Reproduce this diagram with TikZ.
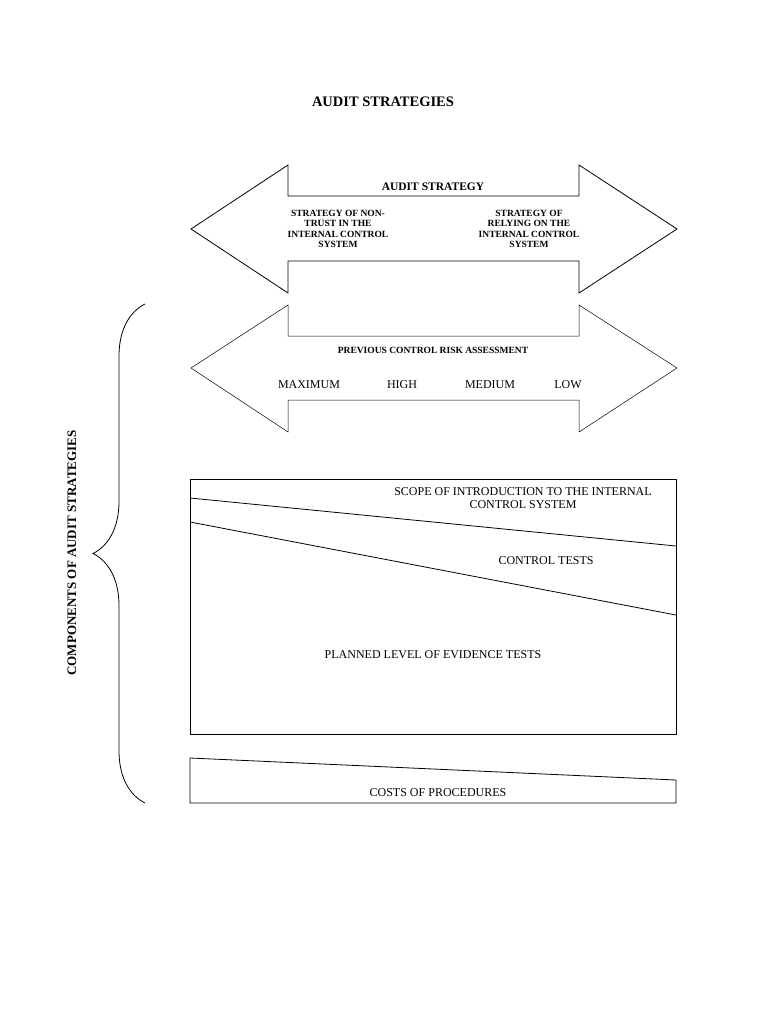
\documentclass[tikz,border=0pt]{standalone}
\usepackage{fontspec}
\setmainfont{Liberation Serif}
\usetikzlibrary{decorations.pathreplacing}

\tikzset{
  outline/.style={draw=black,line width=0.8pt},
  small/.style={font=\fontsize{9.5}{10.5}\selectfont\bfseries,align=center},
  label/.style={font=\fontsize{12}{13}\selectfont,align=center}
}

\begin{document}
\begin{tikzpicture}[x=1pt,y=-1pt]
\useasboundingbox (0,0) rectangle (768,1024);
\node[font=\fontsize{14.5}{16}\selectfont\bfseries] (title) at (383,102) {AUDIT STRATEGIES};
% upper arrow
\draw[outline] (191,229) -- (288,165) -- (288,196) -- (579,196) -- (579,165) -- (677,229)
  -- (579,293) -- (579,261) -- (288,261) -- (288,293) -- cycle;
\node[small,font=\fontsize{11.5}{12}\selectfont\bfseries] (strategy) at (433,187) {AUDIT STRATEGY};
\node[small] (nontrust) at (338,229) {STRATEGY OF NON-\\TRUST IN THE\\INTERNAL CONTROL\\SYSTEM};
\node[small] (relying) at (529,229) {STRATEGY OF\\RELYING ON THE\\INTERNAL CONTROL\\SYSTEM};
% lower arrow
\draw[outline,line width=0.5pt] (191,368) -- (288,305) -- (288,336) -- (579,336) -- (579,305) -- (677,368)
  -- (579,432) -- (579,400) -- (288,400) -- (288,432) -- cycle;
\node[small] (risk) at (433,350) {PREVIOUS CONTROL RISK ASSESSMENT};
\foreach \name/\x/\txt in {max/309/MAXIMUM,high/402/HIGH,med/490/MEDIUM,low/568/LOW}
  \node[label] (\name) at (\x,385) {\txt};
% evidence box
\draw[outline] (190,479) rectangle (676,734);
\draw[outline] (190,498) -- (676,546);
\draw[outline] (190,522) -- (676,615);
\node[label] (scope) at (523,498) {SCOPE OF INTRODUCTION TO THE INTERNAL\\CONTROL SYSTEM};
\node[label] (tests) at (546,561) {CONTROL TESTS};
\node[label] (planned) at (433,655) {PLANNED LEVEL OF EVIDENCE TESTS};
% costs box
\draw[outline] (190,758) -- (676,780) -- (676,803) -- (190,803) -- cycle;
\node[label] (costs) at (438,793) {COSTS OF PROCEDURES};
% brace
\draw[line width=0.8pt,decorate,decoration={brace,amplitude=52pt,aspect=0.5}] (145,803) -- (145,304);
\node[font=\fontsize{13}{14}\selectfont\bfseries,rotate=90] (components) at (72,553) {COMPONENTS OF AUDIT STRATEGIES};
\end{tikzpicture}
\end{document}
